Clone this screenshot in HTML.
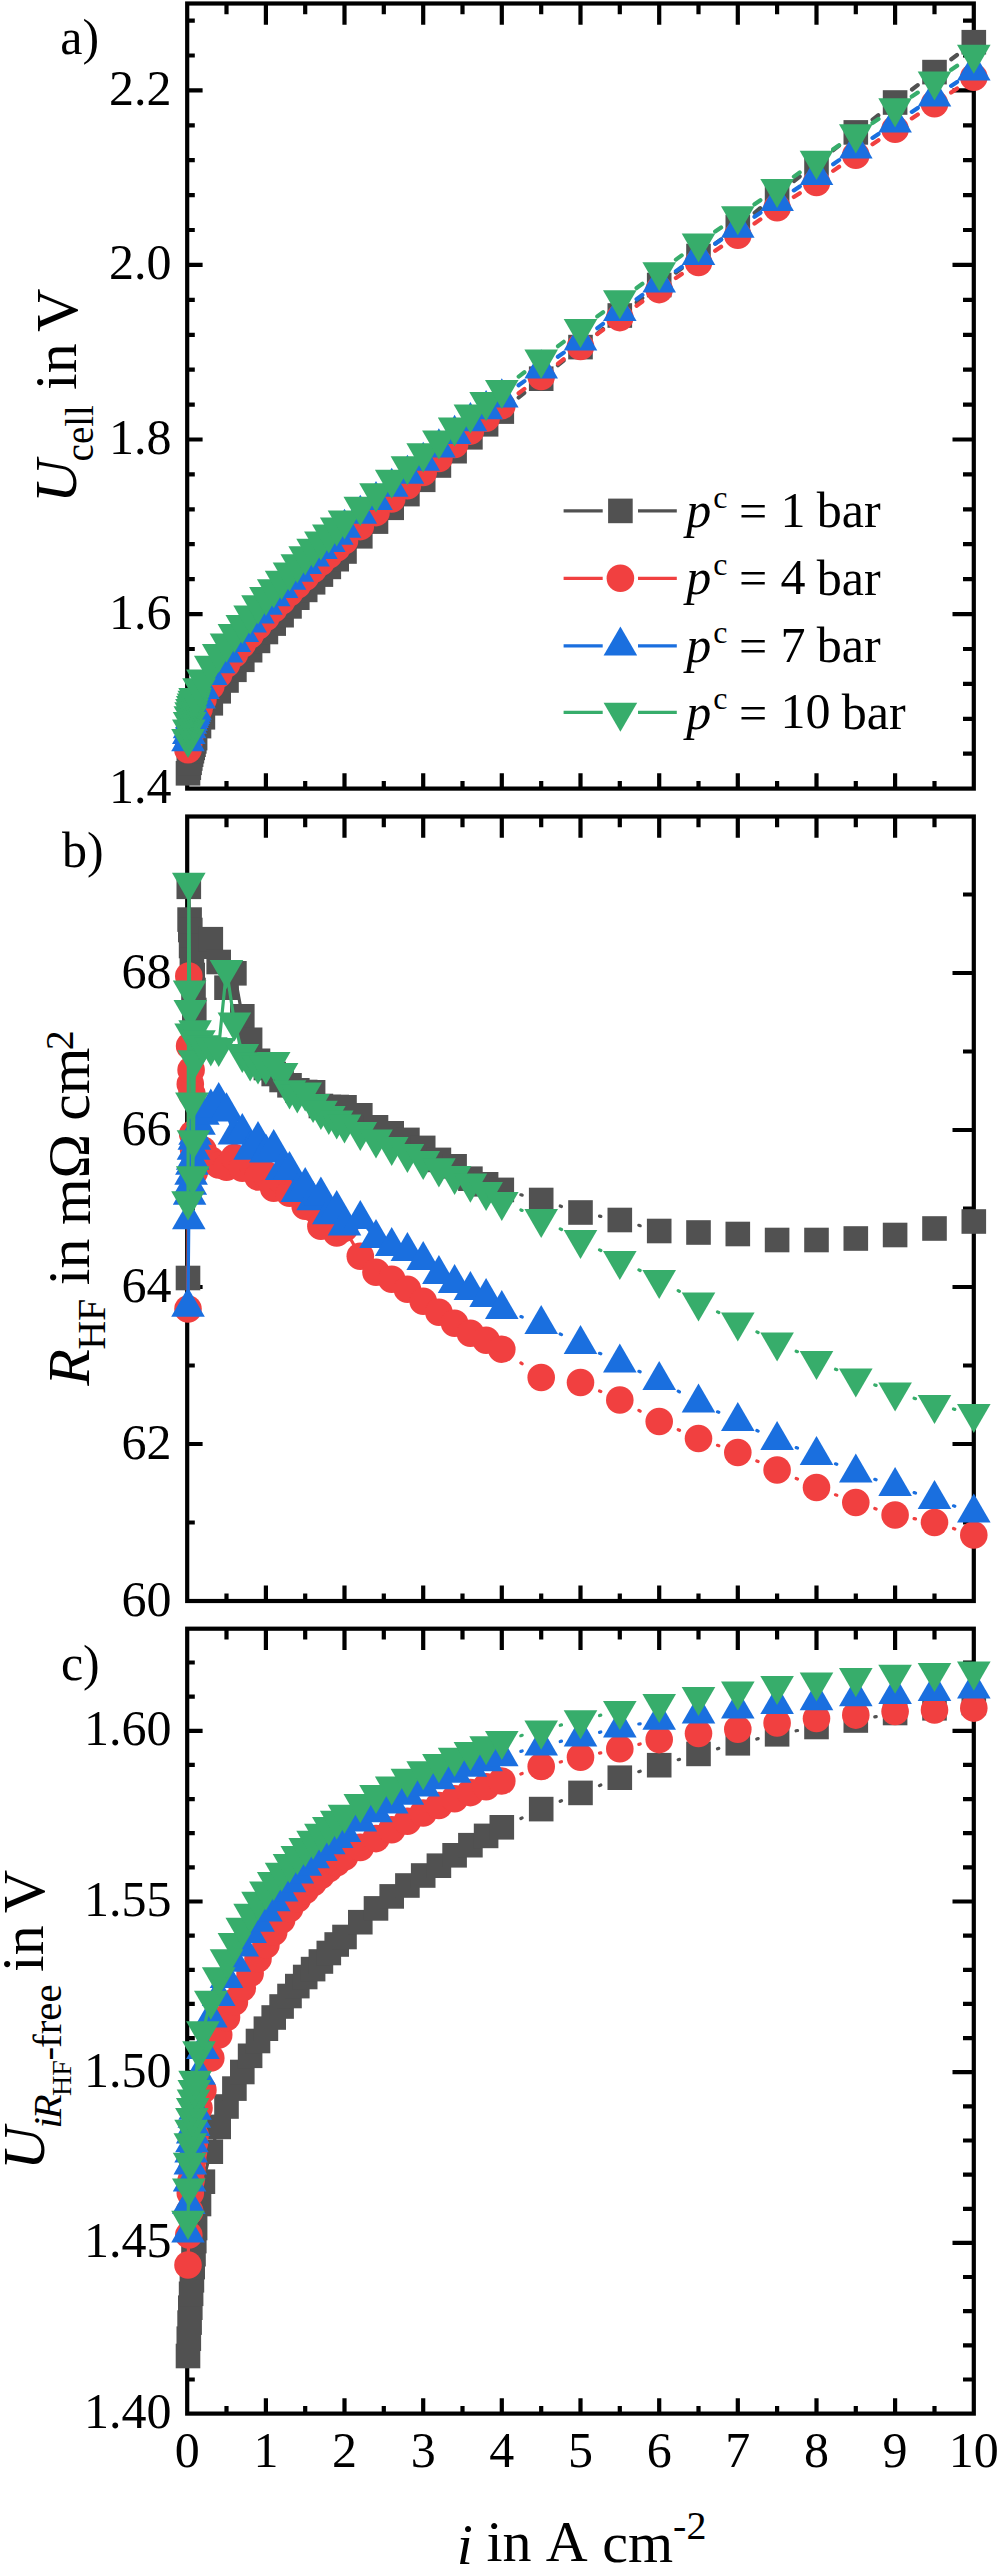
<!DOCTYPE html>
<html><head><meta charset="utf-8"><style>html,body{margin:0;padding:0;background:#fff;}svg{display:block;}</style></head><body>
<svg width="1000" height="2567" viewBox="0 0 1000 2567">
<rect width="1000" height="2567" fill="#fff"/>
<rect x="187.2" y="3.5" width="786.6" height="785.1" fill="none" stroke="#000" stroke-width="4.2"/>
<path d="M226.5 788.6V781.0M226.5 3.5V14.3M265.9 788.6V773.2M265.9 3.5V24.8M305.2 788.6V781.0M305.2 3.5V14.3M344.5 788.6V773.2M344.5 3.5V24.8M383.8 788.6V781.0M383.8 3.5V14.3M423.2 788.6V773.2M423.2 3.5V24.8M462.5 788.6V781.0M462.5 3.5V14.3M501.8 788.6V773.2M501.8 3.5V24.8M541.2 788.6V781.0M541.2 3.5V14.3M580.5 788.6V773.2M580.5 3.5V24.8M619.8 788.6V781.0M619.8 3.5V14.3M659.2 788.6V773.2M659.2 3.5V24.8M698.5 788.6V781.0M698.5 3.5V14.3M737.8 788.6V773.2M737.8 3.5V24.8M777.1 788.6V781.0M777.1 3.5V14.3M816.5 788.6V773.2M816.5 3.5V24.8M855.8 788.6V781.0M855.8 3.5V14.3M895.1 788.6V773.2M895.1 3.5V24.8M934.5 788.6V781.0M934.5 3.5V14.3M187.2 614.1H202.6M973.8 614.1H952.5M187.2 439.5H202.6M973.8 439.5H952.5M187.2 264.9H202.6M973.8 264.9H952.5M187.2 90.4H202.6M973.8 90.4H952.5M187.2 753.7H194.8M973.8 753.7H963.0M187.2 718.8H194.8M973.8 718.8H963.0M187.2 683.9H194.8M973.8 683.9H963.0M187.2 649.0H194.8M973.8 649.0H963.0M187.2 579.1H194.8M973.8 579.1H963.0M187.2 544.2H194.8M973.8 544.2H963.0M187.2 509.3H194.8M973.8 509.3H963.0M187.2 474.4H194.8M973.8 474.4H963.0M187.2 404.6H194.8M973.8 404.6H963.0M187.2 369.7H194.8M973.8 369.7H963.0M187.2 334.8H194.8M973.8 334.8H963.0M187.2 299.9H194.8M973.8 299.9H963.0M187.2 230.0H194.8M973.8 230.0H963.0M187.2 195.1H194.8M973.8 195.1H963.0M187.2 160.2H194.8M973.8 160.2H963.0M187.2 125.3H194.8M973.8 125.3H963.0M187.2 55.5H194.8M973.8 55.5H963.0M187.2 20.6H194.8M973.8 20.6H963.0" stroke="#000" stroke-width="4.2" fill="none"/>
<rect x="187.2" y="816.5" width="786.6" height="784.5" fill="none" stroke="#000" stroke-width="4.2"/>
<path d="M226.5 1601.0V1593.4M226.5 816.5V827.3M265.9 1601.0V1585.6M265.9 816.5V837.8M305.2 1601.0V1593.4M305.2 816.5V827.3M344.5 1601.0V1585.6M344.5 816.5V837.8M383.8 1601.0V1593.4M383.8 816.5V827.3M423.2 1601.0V1585.6M423.2 816.5V837.8M462.5 1601.0V1593.4M462.5 816.5V827.3M501.8 1601.0V1585.6M501.8 816.5V837.8M541.2 1601.0V1593.4M541.2 816.5V827.3M580.5 1601.0V1585.6M580.5 816.5V837.8M619.8 1601.0V1593.4M619.8 816.5V827.3M659.2 1601.0V1585.6M659.2 816.5V837.8M698.5 1601.0V1593.4M698.5 816.5V827.3M737.8 1601.0V1585.6M737.8 816.5V837.8M777.1 1601.0V1593.4M777.1 816.5V827.3M816.5 1601.0V1585.6M816.5 816.5V837.8M855.8 1601.0V1593.4M855.8 816.5V827.3M895.1 1601.0V1585.6M895.1 816.5V837.8M934.5 1601.0V1593.4M934.5 816.5V827.3M187.2 1444.0H202.6M973.8 1444.0H952.5M187.2 1287.0H202.6M973.8 1287.0H952.5M187.2 1130.0H202.6M973.8 1130.0H952.5M187.2 973.0H202.6M973.8 973.0H952.5M187.2 1522.5H194.8M973.8 1522.5H963.0M187.2 1365.5H194.8M973.8 1365.5H963.0M187.2 1208.5H194.8M973.8 1208.5H963.0M187.2 1051.5H194.8M973.8 1051.5H963.0M187.2 894.5H194.8M973.8 894.5H963.0" stroke="#000" stroke-width="4.2" fill="none"/>
<rect x="187.2" y="1628.7" width="786.6" height="784.9" fill="none" stroke="#000" stroke-width="4.2"/>
<path d="M226.5 2413.6V2406.0M226.5 1628.7V1639.5M265.9 2413.6V2398.2M265.9 1628.7V1650.0M305.2 2413.6V2406.0M305.2 1628.7V1639.5M344.5 2413.6V2398.2M344.5 1628.7V1650.0M383.8 2413.6V2406.0M383.8 1628.7V1639.5M423.2 2413.6V2398.2M423.2 1628.7V1650.0M462.5 2413.6V2406.0M462.5 1628.7V1639.5M501.8 2413.6V2398.2M501.8 1628.7V1650.0M541.2 2413.6V2406.0M541.2 1628.7V1639.5M580.5 2413.6V2398.2M580.5 1628.7V1650.0M619.8 2413.6V2406.0M619.8 1628.7V1639.5M659.2 2413.6V2398.2M659.2 1628.7V1650.0M698.5 2413.6V2406.0M698.5 1628.7V1639.5M737.8 2413.6V2398.2M737.8 1628.7V1650.0M777.1 2413.6V2406.0M777.1 1628.7V1639.5M816.5 2413.6V2398.2M816.5 1628.7V1650.0M855.8 2413.6V2406.0M855.8 1628.7V1639.5M895.1 2413.6V2398.2M895.1 1628.7V1650.0M934.5 2413.6V2406.0M934.5 1628.7V1639.5M187.2 2242.9H202.6M973.8 2242.9H952.5M187.2 2072.2H202.6M973.8 2072.2H952.5M187.2 1901.5H202.6M973.8 1901.5H952.5M187.2 1730.8H202.6M973.8 1730.8H952.5M187.2 2379.5H194.8M973.8 2379.5H963.0M187.2 2345.3H194.8M973.8 2345.3H963.0M187.2 2311.2H194.8M973.8 2311.2H963.0M187.2 2277.0H194.8M973.8 2277.0H963.0M187.2 2208.8H194.8M973.8 2208.8H963.0M187.2 2174.6H194.8M973.8 2174.6H963.0M187.2 2140.5H194.8M973.8 2140.5H963.0M187.2 2106.3H194.8M973.8 2106.3H963.0M187.2 2038.1H194.8M973.8 2038.1H963.0M187.2 2003.9H194.8M973.8 2003.9H963.0M187.2 1969.8H194.8M973.8 1969.8H963.0M187.2 1935.6H194.8M973.8 1935.6H963.0M187.2 1867.4H194.8M973.8 1867.4H963.0M187.2 1833.2H194.8M973.8 1833.2H963.0M187.2 1799.1H194.8M973.8 1799.1H963.0M187.2 1764.9H194.8M973.8 1764.9H963.0M187.2 1696.7H194.8M973.8 1696.7H963.0M187.2 1662.5H194.8M973.8 1662.5H963.0" stroke="#000" stroke-width="4.2" fill="none"/>
<path d="M188.0 773.3 L188.8 767.7 L189.6 762.8 L190.3 758.5 L191.1 754.7 L191.9 751.2 L192.7 747.9 L193.5 744.7 L194.3 741.4 L195.1 738.1 L199.0 726.1 L202.9 717.3 L210.8 703.3 L218.7 691.3 L226.5 680.5 L234.4 669.8 L242.3 659.8 L250.1 650.2 L258.0 640.9 L265.9 632.0 L273.7 623.6 L281.6 615.2 L289.5 606.4 L297.3 597.7 L305.2 589.9 L313.1 582.3 L320.9 574.6 L328.8 566.9 L336.7 559.2 L344.5 551.5 L360.3 536.3 L376.0 521.6 L391.7 507.8 L407.4 494.1 L423.2 479.8 L438.9 465.5 L454.6 451.2 L470.4 437.3 L486.1 424.3 L501.8 411.6" fill="none" stroke="#515151" stroke-width="3.2" stroke-linejoin="round"/>
<path d="M518.7 397.5L524.3 392.8M558.0 365.2L563.6 360.6M597.4 333.6L603.0 329.0M636.7 302.5L642.3 298.0M675.9 272.6L681.7 268.4M715.3 243.6L721.1 239.4M754.7 212.8L760.2 208.2M794.0 181.0L799.7 176.5M833.3 150.2L839.0 145.7M872.6 119.6L878.3 115.3M912.0 89.5L917.7 85.1M951.3 59.3L957.0 55.0" fill="none" stroke="#515151" stroke-width="4.2" stroke-linecap="round"/>
<g fill="#515151"><rect x="175.7" y="761.0" width="24.6" height="24.6"/><rect x="176.5" y="755.4" width="24.6" height="24.6"/><rect x="177.3" y="750.5" width="24.6" height="24.6"/><rect x="178.0" y="746.2" width="24.6" height="24.6"/><rect x="178.8" y="742.4" width="24.6" height="24.6"/><rect x="179.6" y="738.9" width="24.6" height="24.6"/><rect x="180.4" y="735.6" width="24.6" height="24.6"/><rect x="181.2" y="732.4" width="24.6" height="24.6"/><rect x="182.0" y="729.1" width="24.6" height="24.6"/><rect x="182.8" y="725.8" width="24.6" height="24.6"/><rect x="186.7" y="713.8" width="24.6" height="24.6"/><rect x="190.6" y="705.0" width="24.6" height="24.6"/><rect x="198.5" y="691.0" width="24.6" height="24.6"/><rect x="206.4" y="679.0" width="24.6" height="24.6"/><rect x="214.2" y="668.2" width="24.6" height="24.6"/><rect x="222.1" y="657.5" width="24.6" height="24.6"/><rect x="230.0" y="647.5" width="24.6" height="24.6"/><rect x="237.8" y="637.9" width="24.6" height="24.6"/><rect x="245.7" y="628.6" width="24.6" height="24.6"/><rect x="253.6" y="619.7" width="24.6" height="24.6"/><rect x="261.4" y="611.3" width="24.6" height="24.6"/><rect x="269.3" y="602.9" width="24.6" height="24.6"/><rect x="277.2" y="594.1" width="24.6" height="24.6"/><rect x="285.0" y="585.4" width="24.6" height="24.6"/><rect x="292.9" y="577.6" width="24.6" height="24.6"/><rect x="300.8" y="570.0" width="24.6" height="24.6"/><rect x="308.6" y="562.3" width="24.6" height="24.6"/><rect x="316.5" y="554.6" width="24.6" height="24.6"/><rect x="324.4" y="546.9" width="24.6" height="24.6"/><rect x="332.2" y="539.2" width="24.6" height="24.6"/><rect x="348.0" y="524.0" width="24.6" height="24.6"/><rect x="363.7" y="509.3" width="24.6" height="24.6"/><rect x="379.4" y="495.5" width="24.6" height="24.6"/><rect x="395.1" y="481.8" width="24.6" height="24.6"/><rect x="410.9" y="467.5" width="24.6" height="24.6"/><rect x="426.6" y="453.2" width="24.6" height="24.6"/><rect x="442.3" y="438.9" width="24.6" height="24.6"/><rect x="458.1" y="425.0" width="24.6" height="24.6"/><rect x="473.8" y="412.0" width="24.6" height="24.6"/><rect x="489.5" y="399.3" width="24.6" height="24.6"/><rect x="528.9" y="366.4" width="24.6" height="24.6"/><rect x="568.2" y="334.8" width="24.6" height="24.6"/><rect x="607.5" y="303.2" width="24.6" height="24.6"/><rect x="646.9" y="272.7" width="24.6" height="24.6"/><rect x="686.2" y="243.7" width="24.6" height="24.6"/><rect x="725.5" y="214.7" width="24.6" height="24.6"/><rect x="764.8" y="181.7" width="24.6" height="24.6"/><rect x="804.2" y="151.2" width="24.6" height="24.6"/><rect x="843.5" y="120.1" width="24.6" height="24.6"/><rect x="882.8" y="90.2" width="24.6" height="24.6"/><rect x="922.2" y="59.8" width="24.6" height="24.6"/><rect x="961.5" y="29.9" width="24.6" height="24.6"/></g>
<path d="M188.0 749.8 L188.8 742.9 L189.6 737.5 L190.3 733.3 L191.1 730.4 L191.9 727.9 L192.7 725.8 L193.5 724.0 L194.3 722.0 L195.1 720.0 L199.0 709.0 L202.9 699.7 L210.8 686.1 L218.7 674.6 L226.5 664.0 L234.4 653.9 L242.3 644.2 L250.1 634.9 L258.0 626.0 L265.9 617.4 L273.7 609.1 L281.6 600.9 L289.5 592.8 L297.3 584.9 L305.2 577.2 L313.1 569.6 L320.9 562.3 L328.8 555.0 L336.7 547.9 L344.5 540.8 L360.3 526.6 L376.0 512.6 L391.7 499.0 L407.4 485.8 L423.2 472.4 L438.9 458.5 L454.6 444.5 L470.4 431.1 L486.1 418.2 L501.8 405.7" fill="none" stroke="#F14040" stroke-width="3.2" stroke-linejoin="round"/>
<path d="M518.6 393.2L524.4 388.9M558.0 363.6L563.7 359.2M597.3 334.1L603.1 329.9M636.6 305.7L642.4 301.5M675.9 278.0L681.8 274.0M715.2 250.8L721.1 246.8M754.5 223.5L760.4 219.4M793.8 197.0L799.8 193.2M833.2 170.9L839.1 166.8M872.5 144.2L878.5 140.2M911.8 118.4L917.8 114.5M951.1 92.5L957.1 88.4" fill="none" stroke="#F14040" stroke-width="4.2" stroke-linecap="round"/>
<g fill="#F14040"><circle cx="188.0" cy="749.8" r="13.8"/><circle cx="188.8" cy="742.9" r="13.8"/><circle cx="189.6" cy="737.5" r="13.8"/><circle cx="190.3" cy="733.3" r="13.8"/><circle cx="191.1" cy="730.4" r="13.8"/><circle cx="191.9" cy="727.9" r="13.8"/><circle cx="192.7" cy="725.8" r="13.8"/><circle cx="193.5" cy="724.0" r="13.8"/><circle cx="194.3" cy="722.0" r="13.8"/><circle cx="195.1" cy="720.0" r="13.8"/><circle cx="199.0" cy="709.0" r="13.8"/><circle cx="202.9" cy="699.7" r="13.8"/><circle cx="210.8" cy="686.1" r="13.8"/><circle cx="218.7" cy="674.6" r="13.8"/><circle cx="226.5" cy="664.0" r="13.8"/><circle cx="234.4" cy="653.9" r="13.8"/><circle cx="242.3" cy="644.2" r="13.8"/><circle cx="250.1" cy="634.9" r="13.8"/><circle cx="258.0" cy="626.0" r="13.8"/><circle cx="265.9" cy="617.4" r="13.8"/><circle cx="273.7" cy="609.1" r="13.8"/><circle cx="281.6" cy="600.9" r="13.8"/><circle cx="289.5" cy="592.8" r="13.8"/><circle cx="297.3" cy="584.9" r="13.8"/><circle cx="305.2" cy="577.2" r="13.8"/><circle cx="313.1" cy="569.6" r="13.8"/><circle cx="320.9" cy="562.3" r="13.8"/><circle cx="328.8" cy="555.0" r="13.8"/><circle cx="336.7" cy="547.9" r="13.8"/><circle cx="344.5" cy="540.8" r="13.8"/><circle cx="360.3" cy="526.6" r="13.8"/><circle cx="376.0" cy="512.6" r="13.8"/><circle cx="391.7" cy="499.0" r="13.8"/><circle cx="407.4" cy="485.8" r="13.8"/><circle cx="423.2" cy="472.4" r="13.8"/><circle cx="438.9" cy="458.5" r="13.8"/><circle cx="454.6" cy="444.5" r="13.8"/><circle cx="470.4" cy="431.1" r="13.8"/><circle cx="486.1" cy="418.2" r="13.8"/><circle cx="501.8" cy="405.7" r="13.8"/><circle cx="541.2" cy="376.4" r="13.8"/><circle cx="580.5" cy="346.4" r="13.8"/><circle cx="619.8" cy="317.6" r="13.8"/><circle cx="659.2" cy="289.6" r="13.8"/><circle cx="698.5" cy="262.4" r="13.8"/><circle cx="737.8" cy="235.2" r="13.8"/><circle cx="777.1" cy="207.7" r="13.8"/><circle cx="816.5" cy="182.5" r="13.8"/><circle cx="855.8" cy="155.2" r="13.8"/><circle cx="895.1" cy="129.2" r="13.8"/><circle cx="934.5" cy="103.7" r="13.8"/><circle cx="973.8" cy="77.2" r="13.8"/></g>
<path d="M188.0 741.5 L188.8 734.2 L189.6 728.5 L190.3 724.0 L191.1 721.0 L191.9 718.4 L192.7 716.1 L193.5 714.2 L194.3 712.1 L195.1 710.0 L199.0 698.8 L202.9 689.3 L210.8 675.4 L218.7 663.6 L226.5 652.7 L234.4 642.3 L242.3 632.4 L250.1 622.8 L258.0 613.7 L265.9 605.0 L273.7 596.5 L281.6 588.2 L289.5 580.0 L297.3 572.0 L305.2 564.3 L313.1 556.7 L320.9 549.4 L328.8 542.2 L336.7 535.1 L344.5 528.1 L360.3 514.1 L376.0 500.4 L391.7 487.1 L407.4 474.1 L423.2 461.1 L438.9 447.7 L454.6 434.2 L470.4 421.5 L486.1 409.5 L501.8 397.7" fill="none" stroke="#1A6FDF" stroke-width="3.2" stroke-linejoin="round"/>
<path d="M518.6 385.3L524.4 381.1M557.9 356.8L563.8 352.6M597.3 328.2L603.0 323.8M636.6 299.2L642.4 294.9M675.9 271.1L681.8 267.0M715.2 243.7L721.1 239.7M754.5 216.8L760.5 212.7M793.8 190.4L799.8 186.4M833.2 164.2L839.1 160.1M872.5 137.9L878.5 133.9M911.8 111.9L917.8 107.9M951.1 85.9L957.1 81.9" fill="none" stroke="#1A6FDF" stroke-width="4.2" stroke-linecap="round"/>
<g fill="#1A6FDF"><path d="M188.0 722.1L204.8 751.2L171.2 751.2Z"/><path d="M188.8 714.8L205.6 743.9L172.0 743.9Z"/><path d="M189.6 709.1L206.4 738.2L172.8 738.2Z"/><path d="M190.3 704.7L207.1 733.7L173.5 733.7Z"/><path d="M191.1 701.6L207.9 730.7L174.3 730.7Z"/><path d="M191.9 699.0L208.7 728.1L175.1 728.1Z"/><path d="M192.7 696.7L209.5 725.8L175.9 725.8Z"/><path d="M193.5 694.8L210.3 723.9L176.7 723.9Z"/><path d="M194.3 692.7L211.1 721.8L177.5 721.8Z"/><path d="M195.1 690.6L211.9 719.7L178.3 719.7Z"/><path d="M199.0 679.4L215.8 708.5L182.2 708.5Z"/><path d="M202.9 669.9L219.7 699.0L186.1 699.0Z"/><path d="M210.8 656.0L227.6 685.1L194.0 685.1Z"/><path d="M218.7 644.2L235.5 673.3L201.9 673.3Z"/><path d="M226.5 633.3L243.3 662.4L209.7 662.4Z"/><path d="M234.4 622.9L251.2 652.0L217.6 652.0Z"/><path d="M242.3 613.0L259.1 642.1L225.5 642.1Z"/><path d="M250.1 603.4L266.9 632.5L233.3 632.5Z"/><path d="M258.0 594.3L274.8 623.4L241.2 623.4Z"/><path d="M265.9 585.6L282.7 614.7L249.1 614.7Z"/><path d="M273.7 577.1L290.5 606.2L256.9 606.2Z"/><path d="M281.6 568.8L298.4 597.9L264.8 597.9Z"/><path d="M289.5 560.6L306.3 589.7L272.7 589.7Z"/><path d="M297.3 552.6L314.1 581.7L280.5 581.7Z"/><path d="M305.2 544.9L322.0 574.0L288.4 574.0Z"/><path d="M313.1 537.3L329.9 566.4L296.3 566.4Z"/><path d="M320.9 530.0L337.7 559.1L304.1 559.1Z"/><path d="M328.8 522.8L345.6 551.9L312.0 551.9Z"/><path d="M336.7 515.7L353.5 544.8L319.9 544.8Z"/><path d="M344.5 508.7L361.3 537.8L327.7 537.8Z"/><path d="M360.3 494.7L377.1 523.8L343.5 523.8Z"/><path d="M376.0 481.0L392.8 510.1L359.2 510.1Z"/><path d="M391.7 467.7L408.5 496.8L374.9 496.8Z"/><path d="M407.4 454.7L424.2 483.8L390.6 483.8Z"/><path d="M423.2 441.7L440.0 470.8L406.4 470.8Z"/><path d="M438.9 428.3L455.7 457.4L422.1 457.4Z"/><path d="M454.6 414.8L471.4 443.9L437.8 443.9Z"/><path d="M470.4 402.1L487.2 431.2L453.6 431.2Z"/><path d="M486.1 390.1L502.9 419.2L469.3 419.2Z"/><path d="M501.8 378.3L518.6 407.4L485.0 407.4Z"/><path d="M541.2 349.3L558.0 378.4L524.4 378.4Z"/><path d="M580.5 321.3L597.3 350.4L563.7 350.4Z"/><path d="M619.8 291.9L636.6 321.0L603.0 321.0Z"/><path d="M659.2 263.4L676.0 292.5L642.4 292.5Z"/><path d="M698.5 235.9L715.3 265.0L681.7 265.0Z"/><path d="M737.8 208.7L754.6 237.8L721.0 237.8Z"/><path d="M777.1 182.0L793.9 211.1L760.3 211.1Z"/><path d="M816.5 156.0L833.3 185.1L799.7 185.1Z"/><path d="M855.8 129.5L872.6 158.6L839.0 158.6Z"/><path d="M895.1 103.5L911.9 132.6L878.3 132.6Z"/><path d="M934.5 77.5L951.3 106.6L917.7 106.6Z"/><path d="M973.8 51.5L990.6 80.6L957.0 80.6Z"/></g>
<path d="M188.0 738.6 L188.8 729.2 L189.6 721.7 L190.3 715.9 L191.1 712.0 L191.9 708.6 L192.7 705.6 L193.5 703.2 L194.3 700.4 L195.1 697.7 L199.0 687.9 L202.9 679.3 L210.8 665.5 L218.7 653.7 L226.5 643.3 L234.4 633.7 L242.3 624.5 L250.1 615.3 L258.0 605.0 L265.9 596.7 L273.7 588.9 L281.6 580.5 L289.5 572.1 L297.3 563.9 L305.2 556.0 L313.1 548.5 L320.9 541.2 L328.8 534.1 L336.7 527.1 L344.5 520.1 L360.3 506.5 L376.0 493.0 L391.7 479.4 L407.4 465.9 L423.2 453.0 L438.9 440.2 L454.6 427.1 L470.4 414.2 L486.1 401.8 L501.8 389.6" fill="none" stroke="#37AD6B" stroke-width="3.2" stroke-linejoin="round"/>
<path d="M518.7 376.6L524.4 372.3M558.0 346.2L563.7 341.8M597.3 316.4L603.1 312.2M636.6 288.0L642.4 283.8M675.9 259.6L681.7 255.4M715.2 231.5L721.1 227.5M754.5 204.3L760.4 200.2M793.9 176.6L799.7 172.5M833.2 149.3L839.1 145.2M872.5 123.0L878.5 119.0M911.8 96.6L917.8 92.6M951.2 69.8L957.1 65.8" fill="none" stroke="#37AD6B" stroke-width="4.2" stroke-linecap="round"/>
<g fill="#37AD6B"><path d="M188.0 758.0L204.8 728.9L171.2 728.9Z"/><path d="M188.8 748.6L205.6 719.5L172.0 719.5Z"/><path d="M189.6 741.1L206.4 712.0L172.8 712.0Z"/><path d="M190.3 735.3L207.1 706.2L173.5 706.2Z"/><path d="M191.1 731.4L207.9 702.3L174.3 702.3Z"/><path d="M191.9 728.0L208.7 698.9L175.1 698.9Z"/><path d="M192.7 725.0L209.5 695.9L175.9 695.9Z"/><path d="M193.5 722.6L210.3 693.5L176.7 693.5Z"/><path d="M194.3 719.8L211.1 690.7L177.5 690.7Z"/><path d="M195.1 717.1L211.9 688.0L178.3 688.0Z"/><path d="M199.0 707.3L215.8 678.2L182.2 678.2Z"/><path d="M202.9 698.7L219.7 669.6L186.1 669.6Z"/><path d="M210.8 684.9L227.6 655.8L194.0 655.8Z"/><path d="M218.7 673.1L235.5 644.0L201.9 644.0Z"/><path d="M226.5 662.7L243.3 633.6L209.7 633.6Z"/><path d="M234.4 653.1L251.2 624.0L217.6 624.0Z"/><path d="M242.3 643.9L259.1 614.9L225.5 614.9Z"/><path d="M250.1 634.7L266.9 605.6L233.3 605.6Z"/><path d="M258.0 624.4L274.8 595.3L241.2 595.3Z"/><path d="M265.9 616.1L282.7 587.0L249.1 587.0Z"/><path d="M273.7 608.3L290.5 579.2L256.9 579.2Z"/><path d="M281.6 599.9L298.4 570.8L264.8 570.8Z"/><path d="M289.5 591.5L306.3 562.4L272.7 562.4Z"/><path d="M297.3 583.3L314.1 554.2L280.5 554.2Z"/><path d="M305.2 575.4L322.0 546.3L288.4 546.3Z"/><path d="M313.1 567.9L329.9 538.8L296.3 538.8Z"/><path d="M320.9 560.6L337.7 531.5L304.1 531.5Z"/><path d="M328.8 553.5L345.6 524.4L312.0 524.4Z"/><path d="M336.7 546.5L353.5 517.4L319.9 517.4Z"/><path d="M344.5 539.5L361.3 510.4L327.7 510.4Z"/><path d="M360.3 525.9L377.1 496.8L343.5 496.8Z"/><path d="M376.0 512.4L392.8 483.3L359.2 483.3Z"/><path d="M391.7 498.8L408.5 469.7L374.9 469.7Z"/><path d="M407.4 485.3L424.2 456.2L390.6 456.2Z"/><path d="M423.2 472.4L440.0 443.3L406.4 443.3Z"/><path d="M438.9 459.6L455.7 430.5L422.1 430.5Z"/><path d="M454.6 446.5L471.4 417.4L437.8 417.4Z"/><path d="M470.4 433.6L487.2 404.5L453.6 404.5Z"/><path d="M486.1 421.2L502.9 392.1L469.3 392.1Z"/><path d="M501.8 409.0L518.6 379.9L485.0 379.9Z"/><path d="M541.2 378.7L558.0 349.6L524.4 349.6Z"/><path d="M580.5 348.1L597.3 319.0L563.7 319.0Z"/><path d="M619.8 319.3L636.6 290.2L603.0 290.2Z"/><path d="M659.2 291.3L676.0 262.2L642.4 262.2Z"/><path d="M698.5 262.5L715.3 233.4L681.7 233.4Z"/><path d="M737.8 235.3L754.6 206.2L721.0 206.2Z"/><path d="M777.1 208.0L793.9 178.9L760.3 178.9Z"/><path d="M816.5 179.9L833.3 150.8L799.7 150.8Z"/><path d="M855.8 153.4L872.6 124.3L839.0 124.3Z"/><path d="M895.1 127.4L911.9 98.3L878.3 98.3Z"/><path d="M934.5 100.6L951.3 71.5L917.7 71.5Z"/><path d="M973.8 73.8L990.6 44.7L957.0 44.7Z"/></g>
<path d="M188.0 1278.0 L188.8 886.8 L189.6 919.6 L190.3 930.0 L191.1 946.0 L191.9 960.0 L192.7 975.0 L193.5 990.0 L194.3 1010.0 L195.1 1043.0 L199.0 946.7 L202.9 946.7 L210.8 939.2 L218.7 962.0 L226.5 987.7 L234.4 973.3 L242.3 1016.3 L250.1 1039.8 L258.0 1060.8 L265.9 1068.0 L273.7 1074.0 L281.6 1080.0 L289.5 1085.3 L297.3 1090.3 L305.2 1092.0 L313.1 1092.3 L320.9 1106.0 L328.8 1107.0 L336.7 1107.0 L344.5 1107.3 L360.3 1115.3 L376.0 1127.3 L391.7 1133.3 L407.4 1139.9 L423.2 1147.9 L438.9 1159.9 L454.6 1166.3 L470.4 1178.7 L486.1 1184.3 L501.8 1189.9" fill="none" stroke="#515151" stroke-width="3.2" stroke-linejoin="round"/>
<path d="M520.8 1194.8L522.2 1195.1M560.2 1206.0L561.5 1206.5M599.5 1216.1L600.9 1216.4M638.8 1225.3L640.2 1225.7" fill="none" stroke="#515151" stroke-width="3.2" stroke-linecap="round"/>
<g fill="#515151"><rect x="175.7" y="1265.7" width="24.6" height="24.6"/><rect x="176.5" y="874.5" width="24.6" height="24.6"/><rect x="177.3" y="907.3" width="24.6" height="24.6"/><rect x="178.0" y="917.7" width="24.6" height="24.6"/><rect x="178.8" y="933.7" width="24.6" height="24.6"/><rect x="179.6" y="947.7" width="24.6" height="24.6"/><rect x="180.4" y="962.7" width="24.6" height="24.6"/><rect x="181.2" y="977.7" width="24.6" height="24.6"/><rect x="182.0" y="997.7" width="24.6" height="24.6"/><rect x="182.8" y="1030.7" width="24.6" height="24.6"/><rect x="186.7" y="934.4" width="24.6" height="24.6"/><rect x="190.6" y="934.4" width="24.6" height="24.6"/><rect x="198.5" y="926.9" width="24.6" height="24.6"/><rect x="206.4" y="949.7" width="24.6" height="24.6"/><rect x="214.2" y="975.4" width="24.6" height="24.6"/><rect x="222.1" y="961.0" width="24.6" height="24.6"/><rect x="230.0" y="1004.0" width="24.6" height="24.6"/><rect x="237.8" y="1027.5" width="24.6" height="24.6"/><rect x="245.7" y="1048.5" width="24.6" height="24.6"/><rect x="253.6" y="1055.7" width="24.6" height="24.6"/><rect x="261.4" y="1061.7" width="24.6" height="24.6"/><rect x="269.3" y="1067.7" width="24.6" height="24.6"/><rect x="277.2" y="1073.0" width="24.6" height="24.6"/><rect x="285.0" y="1078.0" width="24.6" height="24.6"/><rect x="292.9" y="1079.7" width="24.6" height="24.6"/><rect x="300.8" y="1080.0" width="24.6" height="24.6"/><rect x="308.6" y="1093.7" width="24.6" height="24.6"/><rect x="316.5" y="1094.7" width="24.6" height="24.6"/><rect x="324.4" y="1094.7" width="24.6" height="24.6"/><rect x="332.2" y="1095.0" width="24.6" height="24.6"/><rect x="348.0" y="1103.0" width="24.6" height="24.6"/><rect x="363.7" y="1115.0" width="24.6" height="24.6"/><rect x="379.4" y="1121.0" width="24.6" height="24.6"/><rect x="395.1" y="1127.6" width="24.6" height="24.6"/><rect x="410.9" y="1135.6" width="24.6" height="24.6"/><rect x="426.6" y="1147.6" width="24.6" height="24.6"/><rect x="442.3" y="1154.0" width="24.6" height="24.6"/><rect x="458.1" y="1166.4" width="24.6" height="24.6"/><rect x="473.8" y="1172.0" width="24.6" height="24.6"/><rect x="489.5" y="1177.6" width="24.6" height="24.6"/><rect x="528.9" y="1187.7" width="24.6" height="24.6"/><rect x="568.2" y="1200.2" width="24.6" height="24.6"/><rect x="607.5" y="1207.7" width="24.6" height="24.6"/><rect x="646.9" y="1218.7" width="24.6" height="24.6"/><rect x="686.2" y="1220.2" width="24.6" height="24.6"/><rect x="725.5" y="1221.7" width="24.6" height="24.6"/><rect x="764.8" y="1227.7" width="24.6" height="24.6"/><rect x="804.2" y="1227.7" width="24.6" height="24.6"/><rect x="843.5" y="1226.2" width="24.6" height="24.6"/><rect x="882.8" y="1222.7" width="24.6" height="24.6"/><rect x="922.2" y="1216.2" width="24.6" height="24.6"/><rect x="961.5" y="1209.2" width="24.6" height="24.6"/></g>
<path d="M188.0 1309.0 L188.8 976.0 L189.6 1046.0 L190.3 1084.0 L191.1 1070.0 L191.9 1094.0 L192.7 1134.0 L193.5 1149.0 L194.3 1172.0 L195.1 1160.0 L199.0 1150.0 L202.9 1150.0 L210.8 1160.0 L218.7 1165.0 L226.5 1167.2 L234.4 1157.6 L242.3 1168.2 L250.1 1161.2 L258.0 1177.0 L265.9 1174.5 L273.7 1188.2 L281.6 1180.7 L289.5 1193.2 L297.3 1188.2 L305.2 1206.2 L313.1 1208.2 L320.9 1226.2 L328.8 1220.0 L336.7 1232.9 L344.5 1228.2 L360.3 1256.2 L376.0 1272.2 L391.7 1279.2 L407.4 1289.2 L423.2 1301.2 L438.9 1312.2 L454.6 1323.3 L470.4 1333.2 L486.1 1340.2 L501.8 1349.2" fill="none" stroke="#F14040" stroke-width="3.2" stroke-linejoin="round"/>
<path d="M520.9 1362.9L522.1 1363.8M599.5 1391.0L600.8 1391.5M638.9 1410.4L640.1 1411.1M678.2 1429.7L679.5 1430.3M717.5 1445.3L718.8 1445.7M756.8 1461.0L758.1 1461.5M796.2 1478.5L797.5 1479.0M835.5 1494.8L836.8 1495.2M874.8 1508.5L876.1 1509.0M914.1 1518.6L915.5 1518.9M953.5 1528.5L954.8 1529.0" fill="none" stroke="#F14040" stroke-width="3.2" stroke-linecap="round"/>
<g fill="#F14040"><circle cx="188.0" cy="1309.0" r="13.8"/><circle cx="188.8" cy="976.0" r="13.8"/><circle cx="189.6" cy="1046.0" r="13.8"/><circle cx="190.3" cy="1084.0" r="13.8"/><circle cx="191.1" cy="1070.0" r="13.8"/><circle cx="191.9" cy="1094.0" r="13.8"/><circle cx="192.7" cy="1134.0" r="13.8"/><circle cx="193.5" cy="1149.0" r="13.8"/><circle cx="194.3" cy="1172.0" r="13.8"/><circle cx="195.1" cy="1160.0" r="13.8"/><circle cx="199.0" cy="1150.0" r="13.8"/><circle cx="202.9" cy="1150.0" r="13.8"/><circle cx="210.8" cy="1160.0" r="13.8"/><circle cx="218.7" cy="1165.0" r="13.8"/><circle cx="226.5" cy="1167.2" r="13.8"/><circle cx="234.4" cy="1157.6" r="13.8"/><circle cx="242.3" cy="1168.2" r="13.8"/><circle cx="250.1" cy="1161.2" r="13.8"/><circle cx="258.0" cy="1177.0" r="13.8"/><circle cx="265.9" cy="1174.5" r="13.8"/><circle cx="273.7" cy="1188.2" r="13.8"/><circle cx="281.6" cy="1180.7" r="13.8"/><circle cx="289.5" cy="1193.2" r="13.8"/><circle cx="297.3" cy="1188.2" r="13.8"/><circle cx="305.2" cy="1206.2" r="13.8"/><circle cx="313.1" cy="1208.2" r="13.8"/><circle cx="320.9" cy="1226.2" r="13.8"/><circle cx="328.8" cy="1220.0" r="13.8"/><circle cx="336.7" cy="1232.9" r="13.8"/><circle cx="344.5" cy="1228.2" r="13.8"/><circle cx="360.3" cy="1256.2" r="13.8"/><circle cx="376.0" cy="1272.2" r="13.8"/><circle cx="391.7" cy="1279.2" r="13.8"/><circle cx="407.4" cy="1289.2" r="13.8"/><circle cx="423.2" cy="1301.2" r="13.8"/><circle cx="438.9" cy="1312.2" r="13.8"/><circle cx="454.6" cy="1323.3" r="13.8"/><circle cx="470.4" cy="1333.2" r="13.8"/><circle cx="486.1" cy="1340.2" r="13.8"/><circle cx="501.8" cy="1349.2" r="13.8"/><circle cx="541.2" cy="1377.5" r="13.8"/><circle cx="580.5" cy="1382.5" r="13.8"/><circle cx="619.8" cy="1400.0" r="13.8"/><circle cx="659.2" cy="1421.5" r="13.8"/><circle cx="698.5" cy="1438.5" r="13.8"/><circle cx="737.8" cy="1452.5" r="13.8"/><circle cx="777.1" cy="1470.0" r="13.8"/><circle cx="816.5" cy="1487.5" r="13.8"/><circle cx="855.8" cy="1502.5" r="13.8"/><circle cx="895.1" cy="1515.0" r="13.8"/><circle cx="934.5" cy="1522.5" r="13.8"/><circle cx="973.8" cy="1535.0" r="13.8"/></g>
<path d="M188.0 1307.0 L188.8 1219.6 L189.6 1195.0 L190.3 1185.0 L191.1 1175.0 L191.9 1165.0 L192.7 1160.0 L193.5 1150.0 L194.3 1140.0 L195.1 1135.0 L199.0 1125.0 L202.9 1115.0 L210.8 1108.0 L218.7 1101.4 L226.5 1111.7 L234.4 1134.9 L242.3 1132.4 L250.1 1150.0 L258.0 1140.4 L265.9 1152.9 L273.7 1148.4 L281.6 1170.4 L289.5 1170.3 L297.3 1192.3 L305.2 1186.4 L313.1 1200.5 L320.9 1195.8 L328.8 1214.6 L336.7 1209.4 L344.5 1225.8 L360.3 1219.4 L376.0 1238.4 L391.7 1246.4 L407.4 1251.4 L423.2 1260.4 L438.9 1274.4 L454.6 1283.4 L470.4 1290.4 L486.1 1297.4 L501.8 1309.4" fill="none" stroke="#1A6FDF" stroke-width="3.2" stroke-linejoin="round"/>
<path d="M520.9 1316.6L522.2 1317.1M560.2 1334.0L561.5 1334.6M599.5 1353.3L600.8 1353.8M638.9 1371.3L640.1 1371.8M678.2 1391.2L679.4 1391.9M717.5 1411.8L718.8 1412.3M756.9 1430.5L758.1 1431.1M796.2 1447.6L797.5 1448.0M835.5 1463.8L836.8 1464.3M874.8 1479.3L876.1 1479.8M914.1 1492.6L915.5 1493.0M953.5 1505.8L954.8 1506.3" fill="none" stroke="#1A6FDF" stroke-width="3.2" stroke-linecap="round"/>
<g fill="#1A6FDF"><path d="M188.0 1287.6L204.8 1316.7L171.2 1316.7Z"/><path d="M188.8 1200.2L205.6 1229.3L172.0 1229.3Z"/><path d="M189.6 1175.6L206.4 1204.7L172.8 1204.7Z"/><path d="M190.3 1165.6L207.1 1194.7L173.5 1194.7Z"/><path d="M191.1 1155.6L207.9 1184.7L174.3 1184.7Z"/><path d="M191.9 1145.6L208.7 1174.7L175.1 1174.7Z"/><path d="M192.7 1140.6L209.5 1169.7L175.9 1169.7Z"/><path d="M193.5 1130.6L210.3 1159.7L176.7 1159.7Z"/><path d="M194.3 1120.6L211.1 1149.7L177.5 1149.7Z"/><path d="M195.1 1115.6L211.9 1144.7L178.3 1144.7Z"/><path d="M199.0 1105.6L215.8 1134.7L182.2 1134.7Z"/><path d="M202.9 1095.6L219.7 1124.7L186.1 1124.7Z"/><path d="M210.8 1088.6L227.6 1117.7L194.0 1117.7Z"/><path d="M218.7 1082.0L235.5 1111.1L201.9 1111.1Z"/><path d="M226.5 1092.3L243.3 1121.4L209.7 1121.4Z"/><path d="M234.4 1115.5L251.2 1144.6L217.6 1144.6Z"/><path d="M242.3 1113.0L259.1 1142.1L225.5 1142.1Z"/><path d="M250.1 1130.6L266.9 1159.7L233.3 1159.7Z"/><path d="M258.0 1121.0L274.8 1150.1L241.2 1150.1Z"/><path d="M265.9 1133.5L282.7 1162.6L249.1 1162.6Z"/><path d="M273.7 1129.0L290.5 1158.1L256.9 1158.1Z"/><path d="M281.6 1151.0L298.4 1180.1L264.8 1180.1Z"/><path d="M289.5 1150.9L306.3 1180.0L272.7 1180.0Z"/><path d="M297.3 1172.9L314.1 1201.9L280.5 1201.9Z"/><path d="M305.2 1167.0L322.0 1196.1L288.4 1196.1Z"/><path d="M313.1 1181.1L329.9 1210.2L296.3 1210.2Z"/><path d="M320.9 1176.4L337.7 1205.5L304.1 1205.5Z"/><path d="M328.8 1195.2L345.6 1224.3L312.0 1224.3Z"/><path d="M336.7 1190.0L353.5 1219.1L319.9 1219.1Z"/><path d="M344.5 1206.4L361.3 1235.5L327.7 1235.5Z"/><path d="M360.3 1200.0L377.1 1229.1L343.5 1229.1Z"/><path d="M376.0 1219.0L392.8 1248.1L359.2 1248.1Z"/><path d="M391.7 1227.0L408.5 1256.1L374.9 1256.1Z"/><path d="M407.4 1232.0L424.2 1261.1L390.6 1261.1Z"/><path d="M423.2 1241.0L440.0 1270.1L406.4 1270.1Z"/><path d="M438.9 1255.0L455.7 1284.1L422.1 1284.1Z"/><path d="M454.6 1264.0L471.4 1293.1L437.8 1293.1Z"/><path d="M470.4 1271.0L487.2 1300.1L453.6 1300.1Z"/><path d="M486.1 1278.0L502.9 1307.1L469.3 1307.1Z"/><path d="M501.8 1290.0L518.6 1319.1L485.0 1319.1Z"/><path d="M541.2 1304.9L558.0 1334.0L524.4 1334.0Z"/><path d="M580.5 1324.9L597.3 1354.0L563.7 1354.0Z"/><path d="M619.8 1343.4L636.6 1372.5L603.0 1372.5Z"/><path d="M659.2 1360.9L676.0 1390.0L642.4 1390.0Z"/><path d="M698.5 1383.4L715.3 1412.5L681.7 1412.5Z"/><path d="M737.8 1401.9L754.6 1431.0L721.0 1431.0Z"/><path d="M777.1 1420.9L793.9 1450.0L760.3 1450.0Z"/><path d="M816.5 1435.9L833.3 1465.0L799.7 1465.0Z"/><path d="M855.8 1453.4L872.6 1482.5L839.0 1482.5Z"/><path d="M895.1 1466.9L911.9 1496.0L878.3 1496.0Z"/><path d="M934.5 1479.9L951.3 1509.0L917.7 1509.0Z"/><path d="M973.8 1493.4L990.6 1522.5L957.0 1522.5Z"/></g>
<path d="M188.0 1201.0 L188.8 882.5 L189.6 990.2 L190.3 1009.7 L191.1 1033.2 L191.9 1102.2 L192.7 1176.0 L193.5 1140.0 L194.3 1060.0 L195.1 1030.0 L199.0 1040.0 L202.9 1045.0 L210.8 1047.0 L218.7 1047.6 L226.5 969.7 L234.4 1022.2 L242.3 1053.7 L250.1 1062.0 L258.0 1065.2 L265.9 1065.6 L273.7 1061.7 L281.6 1072.7 L289.5 1090.0 L297.3 1094.0 L305.2 1092.2 L313.1 1103.7 L320.9 1110.5 L328.8 1115.6 L336.7 1120.1 L344.5 1124.1 L360.3 1131.6 L376.0 1139.2 L391.7 1146.6 L407.4 1153.6 L423.2 1160.6 L438.9 1168.0 L454.6 1175.6 L470.4 1183.3 L486.1 1191.6 L501.8 1201.6" fill="none" stroke="#37AD6B" stroke-width="3.2" stroke-linejoin="round"/>
<path d="M520.9 1209.9L522.1 1210.4M560.2 1228.9L561.5 1229.5M599.5 1249.9L600.8 1250.5M638.9 1269.9L640.1 1270.5M678.2 1290.6L679.4 1291.3M717.5 1311.9L718.8 1312.5M756.9 1331.9L758.1 1332.5M796.2 1351.2L797.4 1351.7M835.5 1369.2L836.8 1369.7M874.8 1385.0L876.1 1385.4M914.1 1398.2L915.5 1398.7M953.5 1409.0L954.8 1409.4" fill="none" stroke="#37AD6B" stroke-width="3.2" stroke-linecap="round"/>
<g fill="#37AD6B"><path d="M188.0 1220.4L204.8 1191.3L171.2 1191.3Z"/><path d="M188.8 901.9L205.6 872.8L172.0 872.8Z"/><path d="M189.6 1009.6L206.4 980.5L172.8 980.5Z"/><path d="M190.3 1029.1L207.1 1000.0L173.5 1000.0Z"/><path d="M191.1 1052.6L207.9 1023.5L174.3 1023.5Z"/><path d="M191.9 1121.6L208.7 1092.5L175.1 1092.5Z"/><path d="M192.7 1195.4L209.5 1166.3L175.9 1166.3Z"/><path d="M193.5 1159.4L210.3 1130.3L176.7 1130.3Z"/><path d="M194.3 1079.4L211.1 1050.3L177.5 1050.3Z"/><path d="M195.1 1049.4L211.9 1020.3L178.3 1020.3Z"/><path d="M199.0 1059.4L215.8 1030.3L182.2 1030.3Z"/><path d="M202.9 1064.4L219.7 1035.3L186.1 1035.3Z"/><path d="M210.8 1066.4L227.6 1037.3L194.0 1037.3Z"/><path d="M218.7 1067.0L235.5 1037.9L201.9 1037.9Z"/><path d="M226.5 989.1L243.3 960.0L209.7 960.0Z"/><path d="M234.4 1041.6L251.2 1012.5L217.6 1012.5Z"/><path d="M242.3 1073.1L259.1 1044.0L225.5 1044.0Z"/><path d="M250.1 1081.4L266.9 1052.3L233.3 1052.3Z"/><path d="M258.0 1084.6L274.8 1055.5L241.2 1055.5Z"/><path d="M265.9 1085.0L282.7 1055.9L249.1 1055.9Z"/><path d="M273.7 1081.1L290.5 1052.0L256.9 1052.0Z"/><path d="M281.6 1092.1L298.4 1063.0L264.8 1063.0Z"/><path d="M289.5 1109.4L306.3 1080.3L272.7 1080.3Z"/><path d="M297.3 1113.4L314.1 1084.3L280.5 1084.3Z"/><path d="M305.2 1111.6L322.0 1082.5L288.4 1082.5Z"/><path d="M313.1 1123.1L329.9 1094.0L296.3 1094.0Z"/><path d="M320.9 1129.9L337.7 1100.8L304.1 1100.8Z"/><path d="M328.8 1135.0L345.6 1105.9L312.0 1105.9Z"/><path d="M336.7 1139.5L353.5 1110.4L319.9 1110.4Z"/><path d="M344.5 1143.5L361.3 1114.4L327.7 1114.4Z"/><path d="M360.3 1151.0L377.1 1121.9L343.5 1121.9Z"/><path d="M376.0 1158.6L392.8 1129.5L359.2 1129.5Z"/><path d="M391.7 1166.0L408.5 1136.9L374.9 1136.9Z"/><path d="M407.4 1173.0L424.2 1143.9L390.6 1143.9Z"/><path d="M423.2 1180.0L440.0 1150.9L406.4 1150.9Z"/><path d="M438.9 1187.4L455.7 1158.3L422.1 1158.3Z"/><path d="M454.6 1195.0L471.4 1165.9L437.8 1165.9Z"/><path d="M470.4 1202.7L487.2 1173.6L453.6 1173.6Z"/><path d="M486.1 1211.0L502.9 1181.9L469.3 1181.9Z"/><path d="M501.8 1221.0L518.6 1191.9L485.0 1191.9Z"/><path d="M541.2 1238.1L558.0 1209.0L524.4 1209.0Z"/><path d="M580.5 1259.1L597.3 1230.0L563.7 1230.0Z"/><path d="M619.8 1280.1L636.6 1251.0L603.0 1251.0Z"/><path d="M659.2 1299.1L676.0 1270.0L642.4 1270.0Z"/><path d="M698.5 1321.6L715.3 1292.5L681.7 1292.5Z"/><path d="M737.8 1341.6L754.6 1312.5L721.0 1312.5Z"/><path d="M777.1 1361.6L793.9 1332.5L760.3 1332.5Z"/><path d="M816.5 1380.1L833.3 1351.0L799.7 1351.0Z"/><path d="M855.8 1397.6L872.6 1368.5L839.0 1368.5Z"/><path d="M895.1 1411.6L911.9 1382.5L878.3 1382.5Z"/><path d="M934.5 1424.1L951.3 1395.0L917.7 1395.0Z"/><path d="M973.8 1433.1L990.6 1404.0L957.0 1404.0Z"/></g>
<path d="M188.0 2356.0 L188.8 2338.7 L189.6 2322.6 L190.3 2307.7 L191.1 2293.8 L191.9 2280.3 L192.7 2267.1 L193.5 2254.2 L194.3 2241.1 L195.1 2228.0 L199.0 2204.0 L202.9 2181.7 L210.8 2151.7 L218.7 2126.9 L226.5 2106.5 L234.4 2088.6 L242.3 2072.0 L250.1 2055.8 L258.0 2041.0 L265.9 2028.7 L273.7 2017.5 L281.6 2006.5 L289.5 1996.0 L297.3 1986.1 L305.2 1977.0 L313.1 1969.1 L320.9 1961.5 L328.8 1953.0 L336.7 1944.5 L344.5 1937.0 L360.3 1922.2 L376.0 1908.4 L391.7 1896.4 L407.4 1885.5 L423.2 1875.5 L438.9 1865.7 L454.6 1855.3 L470.4 1845.2 L486.1 1835.9 L501.8 1827.3" fill="none" stroke="#515151" stroke-width="3.2" stroke-linejoin="round"/>
<path d="M520.9 1818.5L522.1 1817.9M560.2 1801.3L561.5 1800.7M599.5 1785.6L600.8 1785.0M638.8 1771.7L640.2 1771.2M678.2 1759.7L679.5 1759.4M717.5 1748.8L718.8 1748.4M756.8 1739.0L758.2 1738.6M796.1 1730.8L797.5 1730.5M874.8 1716.9L876.2 1716.6" fill="none" stroke="#515151" stroke-width="3.2" stroke-linecap="round"/>
<g fill="#515151"><rect x="175.7" y="2343.7" width="24.6" height="24.6"/><rect x="176.5" y="2326.4" width="24.6" height="24.6"/><rect x="177.3" y="2310.3" width="24.6" height="24.6"/><rect x="178.0" y="2295.4" width="24.6" height="24.6"/><rect x="178.8" y="2281.5" width="24.6" height="24.6"/><rect x="179.6" y="2268.0" width="24.6" height="24.6"/><rect x="180.4" y="2254.8" width="24.6" height="24.6"/><rect x="181.2" y="2241.9" width="24.6" height="24.6"/><rect x="182.0" y="2228.8" width="24.6" height="24.6"/><rect x="182.8" y="2215.7" width="24.6" height="24.6"/><rect x="186.7" y="2191.7" width="24.6" height="24.6"/><rect x="190.6" y="2169.4" width="24.6" height="24.6"/><rect x="198.5" y="2139.4" width="24.6" height="24.6"/><rect x="206.4" y="2114.6" width="24.6" height="24.6"/><rect x="214.2" y="2094.2" width="24.6" height="24.6"/><rect x="222.1" y="2076.3" width="24.6" height="24.6"/><rect x="230.0" y="2059.7" width="24.6" height="24.6"/><rect x="237.8" y="2043.5" width="24.6" height="24.6"/><rect x="245.7" y="2028.7" width="24.6" height="24.6"/><rect x="253.6" y="2016.4" width="24.6" height="24.6"/><rect x="261.4" y="2005.2" width="24.6" height="24.6"/><rect x="269.3" y="1994.2" width="24.6" height="24.6"/><rect x="277.2" y="1983.7" width="24.6" height="24.6"/><rect x="285.0" y="1973.8" width="24.6" height="24.6"/><rect x="292.9" y="1964.7" width="24.6" height="24.6"/><rect x="300.8" y="1956.8" width="24.6" height="24.6"/><rect x="308.6" y="1949.2" width="24.6" height="24.6"/><rect x="316.5" y="1940.7" width="24.6" height="24.6"/><rect x="324.4" y="1932.2" width="24.6" height="24.6"/><rect x="332.2" y="1924.7" width="24.6" height="24.6"/><rect x="348.0" y="1909.9" width="24.6" height="24.6"/><rect x="363.7" y="1896.1" width="24.6" height="24.6"/><rect x="379.4" y="1884.1" width="24.6" height="24.6"/><rect x="395.1" y="1873.2" width="24.6" height="24.6"/><rect x="410.9" y="1863.2" width="24.6" height="24.6"/><rect x="426.6" y="1853.4" width="24.6" height="24.6"/><rect x="442.3" y="1843.0" width="24.6" height="24.6"/><rect x="458.1" y="1832.9" width="24.6" height="24.6"/><rect x="473.8" y="1823.6" width="24.6" height="24.6"/><rect x="489.5" y="1815.0" width="24.6" height="24.6"/><rect x="528.9" y="1796.8" width="24.6" height="24.6"/><rect x="568.2" y="1780.6" width="24.6" height="24.6"/><rect x="607.5" y="1765.4" width="24.6" height="24.6"/><rect x="646.9" y="1752.9" width="24.6" height="24.6"/><rect x="686.2" y="1741.6" width="24.6" height="24.6"/><rect x="725.5" y="1731.0" width="24.6" height="24.6"/><rect x="764.8" y="1722.0" width="24.6" height="24.6"/><rect x="804.2" y="1714.7" width="24.6" height="24.6"/><rect x="843.5" y="1708.2" width="24.6" height="24.6"/><rect x="882.8" y="1700.7" width="24.6" height="24.6"/><rect x="922.2" y="1696.0" width="24.6" height="24.6"/><rect x="961.5" y="1690.7" width="24.6" height="24.6"/></g>
<path d="M188.0 2265.0 L188.8 2235.0 L189.6 2211.2 L190.3 2193.0 L191.1 2180.4 L191.9 2169.6 L192.7 2160.2 L193.5 2152.4 L194.3 2143.6 L195.1 2135.0 L199.0 2108.0 L202.9 2090.0 L210.8 2058.0 L218.7 2035.0 L226.5 2017.4 L234.4 2002.0 L242.3 1988.0 L250.1 1973.4 L258.0 1958.7 L265.9 1945.0 L273.7 1932.3 L281.6 1920.0 L289.5 1908.8 L297.3 1899.0 L305.2 1890.5 L313.1 1882.7 L320.9 1875.5 L328.8 1868.8 L336.7 1862.7 L344.5 1857.0 L360.3 1847.4 L376.0 1838.6 L391.7 1829.7 L407.4 1821.2 L423.2 1813.0 L438.9 1805.5 L454.6 1798.7 L470.4 1792.6 L486.1 1786.8 L501.8 1781.0" fill="none" stroke="#F14040" stroke-width="3.2" stroke-linejoin="round"/>
<path d="M520.8 1774.0L522.2 1773.5M560.2 1762.0L561.5 1761.7M599.5 1753.1L600.8 1752.9M638.8 1744.4L640.2 1744.0" fill="none" stroke="#F14040" stroke-width="3.2" stroke-linecap="round"/>
<g fill="#F14040"><circle cx="188.0" cy="2265.0" r="13.8"/><circle cx="188.8" cy="2235.0" r="13.8"/><circle cx="189.6" cy="2211.2" r="13.8"/><circle cx="190.3" cy="2193.0" r="13.8"/><circle cx="191.1" cy="2180.4" r="13.8"/><circle cx="191.9" cy="2169.6" r="13.8"/><circle cx="192.7" cy="2160.2" r="13.8"/><circle cx="193.5" cy="2152.4" r="13.8"/><circle cx="194.3" cy="2143.6" r="13.8"/><circle cx="195.1" cy="2135.0" r="13.8"/><circle cx="199.0" cy="2108.0" r="13.8"/><circle cx="202.9" cy="2090.0" r="13.8"/><circle cx="210.8" cy="2058.0" r="13.8"/><circle cx="218.7" cy="2035.0" r="13.8"/><circle cx="226.5" cy="2017.4" r="13.8"/><circle cx="234.4" cy="2002.0" r="13.8"/><circle cx="242.3" cy="1988.0" r="13.8"/><circle cx="250.1" cy="1973.4" r="13.8"/><circle cx="258.0" cy="1958.7" r="13.8"/><circle cx="265.9" cy="1945.0" r="13.8"/><circle cx="273.7" cy="1932.3" r="13.8"/><circle cx="281.6" cy="1920.0" r="13.8"/><circle cx="289.5" cy="1908.8" r="13.8"/><circle cx="297.3" cy="1899.0" r="13.8"/><circle cx="305.2" cy="1890.5" r="13.8"/><circle cx="313.1" cy="1882.7" r="13.8"/><circle cx="320.9" cy="1875.5" r="13.8"/><circle cx="328.8" cy="1868.8" r="13.8"/><circle cx="336.7" cy="1862.7" r="13.8"/><circle cx="344.5" cy="1857.0" r="13.8"/><circle cx="360.3" cy="1847.4" r="13.8"/><circle cx="376.0" cy="1838.6" r="13.8"/><circle cx="391.7" cy="1829.7" r="13.8"/><circle cx="407.4" cy="1821.2" r="13.8"/><circle cx="423.2" cy="1813.0" r="13.8"/><circle cx="438.9" cy="1805.5" r="13.8"/><circle cx="454.6" cy="1798.7" r="13.8"/><circle cx="470.4" cy="1792.6" r="13.8"/><circle cx="486.1" cy="1786.8" r="13.8"/><circle cx="501.8" cy="1781.0" r="13.8"/><circle cx="541.2" cy="1766.5" r="13.8"/><circle cx="580.5" cy="1757.2" r="13.8"/><circle cx="619.8" cy="1748.8" r="13.8"/><circle cx="659.2" cy="1739.6" r="13.8"/><circle cx="698.5" cy="1733.4" r="13.8"/><circle cx="737.8" cy="1729.2" r="13.8"/><circle cx="777.1" cy="1722.9" r="13.8"/><circle cx="816.5" cy="1718.5" r="13.8"/><circle cx="855.8" cy="1715.1" r="13.8"/><circle cx="895.1" cy="1711.5" r="13.8"/><circle cx="934.5" cy="1710.0" r="13.8"/><circle cx="973.8" cy="1708.1" r="13.8"/></g>
<path d="M188.0 2232.7 L188.8 2204.4 L189.6 2181.9 L190.3 2164.7 L191.1 2152.8 L191.9 2142.6 L192.7 2133.8 L193.5 2126.4 L194.3 2118.1 L195.1 2110.0 L199.0 2075.0 L202.9 2049.4 L210.8 2017.9 L218.7 1996.3 L226.5 1978.3 L234.4 1962.1 L242.3 1946.9 L250.1 1933.3 L258.0 1922.0 L265.9 1911.7 L273.7 1901.6 L281.6 1891.9 L289.5 1882.5 L297.3 1873.9 L305.2 1866.1 L313.1 1858.5 L320.9 1851.4 L328.8 1844.6 L336.7 1838.3 L344.5 1832.4 L360.3 1821.9 L376.0 1812.6 L391.7 1803.8 L407.4 1795.1 L423.2 1786.9 L438.9 1779.6 L454.6 1773.1 L470.4 1767.1 L486.1 1761.6 L501.8 1756.5" fill="none" stroke="#1A6FDF" stroke-width="3.2" stroke-linejoin="round"/>
<path d="M520.8 1751.4L522.2 1751.0M560.2 1741.5L561.5 1741.1M599.5 1732.4L600.8 1732.0M638.8 1724.0L640.2 1723.8" fill="none" stroke="#1A6FDF" stroke-width="3.2" stroke-linecap="round"/>
<g fill="#1A6FDF"><path d="M188.0 2213.3L204.8 2242.4L171.2 2242.4Z"/><path d="M188.8 2185.0L205.6 2214.1L172.0 2214.1Z"/><path d="M189.6 2162.5L206.4 2191.6L172.8 2191.6Z"/><path d="M190.3 2145.3L207.1 2174.4L173.5 2174.4Z"/><path d="M191.1 2133.4L207.9 2162.5L174.3 2162.5Z"/><path d="M191.9 2123.2L208.7 2152.3L175.1 2152.3Z"/><path d="M192.7 2114.4L209.5 2143.5L175.9 2143.5Z"/><path d="M193.5 2107.0L210.3 2136.1L176.7 2136.1Z"/><path d="M194.3 2098.7L211.1 2127.8L177.5 2127.8Z"/><path d="M195.1 2090.6L211.9 2119.7L178.3 2119.7Z"/><path d="M199.0 2055.6L215.8 2084.7L182.2 2084.7Z"/><path d="M202.9 2030.0L219.7 2059.1L186.1 2059.1Z"/><path d="M210.8 1998.5L227.6 2027.6L194.0 2027.6Z"/><path d="M218.7 1976.9L235.5 2006.0L201.9 2006.0Z"/><path d="M226.5 1958.9L243.3 1988.0L209.7 1988.0Z"/><path d="M234.4 1942.7L251.2 1971.8L217.6 1971.8Z"/><path d="M242.3 1927.5L259.1 1956.6L225.5 1956.6Z"/><path d="M250.1 1913.9L266.9 1943.0L233.3 1943.0Z"/><path d="M258.0 1902.6L274.8 1931.7L241.2 1931.7Z"/><path d="M265.9 1892.3L282.7 1921.4L249.1 1921.4Z"/><path d="M273.7 1882.2L290.5 1911.3L256.9 1911.3Z"/><path d="M281.6 1872.5L298.4 1901.6L264.8 1901.6Z"/><path d="M289.5 1863.1L306.3 1892.2L272.7 1892.2Z"/><path d="M297.3 1854.5L314.1 1883.6L280.5 1883.6Z"/><path d="M305.2 1846.7L322.0 1875.8L288.4 1875.8Z"/><path d="M313.1 1839.1L329.9 1868.2L296.3 1868.2Z"/><path d="M320.9 1832.0L337.7 1861.1L304.1 1861.1Z"/><path d="M328.8 1825.2L345.6 1854.3L312.0 1854.3Z"/><path d="M336.7 1818.9L353.5 1848.0L319.9 1848.0Z"/><path d="M344.5 1813.0L361.3 1842.1L327.7 1842.1Z"/><path d="M360.3 1802.5L377.1 1831.6L343.5 1831.6Z"/><path d="M376.0 1793.2L392.8 1822.3L359.2 1822.3Z"/><path d="M391.7 1784.4L408.5 1813.5L374.9 1813.5Z"/><path d="M407.4 1775.8L424.2 1804.8L390.6 1804.8Z"/><path d="M423.2 1767.5L440.0 1796.6L406.4 1796.6Z"/><path d="M438.9 1760.2L455.7 1789.3L422.1 1789.3Z"/><path d="M454.6 1753.7L471.4 1782.8L437.8 1782.8Z"/><path d="M470.4 1747.7L487.2 1776.8L453.6 1776.8Z"/><path d="M486.1 1742.2L502.9 1771.3L469.3 1771.3Z"/><path d="M501.8 1737.1L518.6 1766.2L485.0 1766.2Z"/><path d="M541.2 1726.5L558.0 1755.6L524.4 1755.6Z"/><path d="M580.5 1717.3L597.3 1746.4L563.7 1746.4Z"/><path d="M619.8 1708.3L636.6 1737.4L603.0 1737.4Z"/><path d="M659.2 1700.7L676.0 1729.8L642.4 1729.8Z"/><path d="M698.5 1694.3L715.3 1723.4L681.7 1723.4Z"/><path d="M737.8 1689.5L754.6 1718.6L721.0 1718.6Z"/><path d="M777.1 1685.0L793.9 1714.1L760.3 1714.1Z"/><path d="M816.5 1681.1L833.3 1710.2L799.7 1710.2Z"/><path d="M855.8 1677.2L872.6 1706.3L839.0 1706.3Z"/><path d="M895.1 1674.9L911.9 1704.0L878.3 1704.0Z"/><path d="M934.5 1672.0L951.3 1701.1L917.7 1701.1Z"/><path d="M973.8 1669.4L990.6 1698.5L957.0 1698.5Z"/></g>
<path d="M188.0 2220.5 L188.8 2188.2 L189.6 2162.5 L190.3 2142.9 L191.1 2129.4 L191.9 2117.7 L192.7 2107.7 L193.5 2099.3 L194.3 2089.7 L195.1 2080.5 L199.0 2051.0 L202.9 2031.0 L210.8 2000.4 L218.7 1977.0 L226.5 1959.0 L234.4 1942.6 L242.3 1927.5 L250.1 1913.5 L258.0 1901.4 L265.9 1891.2 L273.7 1881.6 L281.6 1872.4 L289.5 1863.8 L297.3 1855.6 L305.2 1847.8 L313.1 1840.4 L320.9 1833.4 L328.8 1826.7 L336.7 1820.4 L344.5 1814.4 L360.3 1803.8 L376.0 1794.6 L391.7 1786.3 L407.4 1778.5 L423.2 1770.9 L438.9 1763.8 L454.6 1757.5 L470.4 1751.7 L486.1 1745.9 L501.8 1740.7" fill="none" stroke="#37AD6B" stroke-width="3.2" stroke-linejoin="round"/>
<path d="M520.8 1735.7L522.2 1735.3M560.2 1725.3L561.5 1724.9M599.5 1715.5L600.8 1715.1" fill="none" stroke="#37AD6B" stroke-width="3.2" stroke-linecap="round"/>
<g fill="#37AD6B"><path d="M188.0 2239.9L204.8 2210.8L171.2 2210.8Z"/><path d="M188.8 2207.6L205.6 2178.5L172.0 2178.5Z"/><path d="M189.6 2181.9L206.4 2152.8L172.8 2152.8Z"/><path d="M190.3 2162.3L207.1 2133.2L173.5 2133.2Z"/><path d="M191.1 2148.8L207.9 2119.7L174.3 2119.7Z"/><path d="M191.9 2137.1L208.7 2108.0L175.1 2108.0Z"/><path d="M192.7 2127.1L209.5 2098.0L175.9 2098.0Z"/><path d="M193.5 2118.7L210.3 2089.6L176.7 2089.6Z"/><path d="M194.3 2109.1L211.1 2080.0L177.5 2080.0Z"/><path d="M195.1 2099.9L211.9 2070.8L178.3 2070.8Z"/><path d="M199.0 2070.4L215.8 2041.3L182.2 2041.3Z"/><path d="M202.9 2050.4L219.7 2021.3L186.1 2021.3Z"/><path d="M210.8 2019.8L227.6 1990.7L194.0 1990.7Z"/><path d="M218.7 1996.4L235.5 1967.3L201.9 1967.3Z"/><path d="M226.5 1978.4L243.3 1949.3L209.7 1949.3Z"/><path d="M234.4 1962.0L251.2 1932.9L217.6 1932.9Z"/><path d="M242.3 1946.9L259.1 1917.8L225.5 1917.8Z"/><path d="M250.1 1932.9L266.9 1903.8L233.3 1903.8Z"/><path d="M258.0 1920.8L274.8 1891.7L241.2 1891.7Z"/><path d="M265.9 1910.6L282.7 1881.5L249.1 1881.5Z"/><path d="M273.7 1901.0L290.5 1871.9L256.9 1871.9Z"/><path d="M281.6 1891.8L298.4 1862.7L264.8 1862.7Z"/><path d="M289.5 1883.2L306.3 1854.1L272.7 1854.1Z"/><path d="M297.3 1875.0L314.1 1845.9L280.5 1845.9Z"/><path d="M305.2 1867.2L322.0 1838.1L288.4 1838.1Z"/><path d="M313.1 1859.8L329.9 1830.7L296.3 1830.7Z"/><path d="M320.9 1852.8L337.7 1823.7L304.1 1823.7Z"/><path d="M328.8 1846.1L345.6 1817.0L312.0 1817.0Z"/><path d="M336.7 1839.8L353.5 1810.7L319.9 1810.7Z"/><path d="M344.5 1833.8L361.3 1804.7L327.7 1804.7Z"/><path d="M360.3 1823.2L377.1 1794.1L343.5 1794.1Z"/><path d="M376.0 1814.0L392.8 1784.9L359.2 1784.9Z"/><path d="M391.7 1805.6L408.5 1776.6L374.9 1776.6Z"/><path d="M407.4 1797.9L424.2 1768.8L390.6 1768.8Z"/><path d="M423.2 1790.3L440.0 1761.2L406.4 1761.2Z"/><path d="M438.9 1783.2L455.7 1754.1L422.1 1754.1Z"/><path d="M454.6 1776.9L471.4 1747.8L437.8 1747.8Z"/><path d="M470.4 1771.1L487.2 1742.0L453.6 1742.0Z"/><path d="M486.1 1765.3L502.9 1736.3L469.3 1736.3Z"/><path d="M501.8 1760.1L518.6 1731.0L485.0 1731.0Z"/><path d="M541.2 1749.7L558.0 1720.6L524.4 1720.6Z"/><path d="M580.5 1739.3L597.3 1710.2L563.7 1710.2Z"/><path d="M619.8 1730.1L636.6 1701.0L603.0 1701.0Z"/><path d="M659.2 1723.1L676.0 1694.0L642.4 1694.0Z"/><path d="M698.5 1716.1L715.3 1687.0L681.7 1687.0Z"/><path d="M737.8 1710.5L754.6 1681.4L721.0 1681.4Z"/><path d="M777.1 1705.0L793.9 1675.9L760.3 1675.9Z"/><path d="M816.5 1701.6L833.3 1672.5L799.7 1672.5Z"/><path d="M855.8 1697.2L872.6 1668.1L839.0 1668.1Z"/><path d="M895.1 1693.8L911.9 1664.7L878.3 1664.7Z"/><path d="M934.5 1692.0L951.3 1662.9L917.7 1662.9Z"/><path d="M973.8 1690.7L990.6 1661.6L957.0 1661.6Z"/></g>
<g font-family="Liberation Serif, serif" font-size="50" fill="#000"><text x="171.6" y="803.1" text-anchor="end">1.4</text><text x="171.6" y="628.5" text-anchor="end">1.6</text><text x="171.6" y="454.0" text-anchor="end">1.8</text><text x="171.6" y="279.4" text-anchor="end">2.0</text><text x="171.6" y="104.9" text-anchor="end">2.2</text><text x="171.6" y="1615.5" text-anchor="end">60</text><text x="171.6" y="1458.5" text-anchor="end">62</text><text x="171.6" y="1301.5" text-anchor="end">64</text><text x="171.6" y="1144.5" text-anchor="end">66</text><text x="171.6" y="987.5" text-anchor="end">68</text><text x="171.6" y="2428.1" text-anchor="end">1.40</text><text x="171.6" y="2257.4" text-anchor="end">1.45</text><text x="171.6" y="2086.7" text-anchor="end">1.50</text><text x="171.6" y="1916.0" text-anchor="end">1.55</text><text x="171.6" y="1745.3" text-anchor="end">1.60</text><text x="187.2" y="2467.2" text-anchor="middle">0</text><text x="265.9" y="2467.2" text-anchor="middle">1</text><text x="344.5" y="2467.2" text-anchor="middle">2</text><text x="423.2" y="2467.2" text-anchor="middle">3</text><text x="501.8" y="2467.2" text-anchor="middle">4</text><text x="580.5" y="2467.2" text-anchor="middle">5</text><text x="659.2" y="2467.2" text-anchor="middle">6</text><text x="737.8" y="2467.2" text-anchor="middle">7</text><text x="816.5" y="2467.2" text-anchor="middle">8</text><text x="895.1" y="2467.2" text-anchor="middle">9</text><text x="973.8" y="2467.2" text-anchor="middle">10</text></g>
<path d="M563.6 510.9H602.7M638 510.9H676.8" stroke="#515151" stroke-width="3.2"/>
<g fill="#515151"><rect x="608.1" y="498.6" width="24.6" height="24.6"/></g>
<path d="M563.6 578.3H602.7M638 578.3H676.8" stroke="#F14040" stroke-width="3.2"/>
<g fill="#F14040"><circle cx="620.4" cy="578.3" r="13.8"/></g>
<path d="M563.6 645.8H602.7M638 645.8H676.8" stroke="#1A6FDF" stroke-width="3.2"/>
<g fill="#1A6FDF"><path d="M620.4 626.4L637.2 655.5L603.6 655.5Z"/></g>
<path d="M563.6 712.4H602.7M638 712.4H676.8" stroke="#37AD6B" stroke-width="3.2"/>
<g fill="#37AD6B"><path d="M620.4 731.8L637.2 702.7L603.6 702.7Z"/></g>
<g font-family="Liberation Serif, serif" fill="#000"><text font-size="60" font-style="italic" transform="translate(76.1,503.0) rotate(-90)">U</text><text font-size="39" transform="translate(92.8,461.4) rotate(-90)">cell</text><text font-size="60" transform="translate(76.4,390.0) rotate(-90)">in</text><text font-size="60" transform="translate(76.5,332.0) rotate(-90)">V</text><text font-size="60" font-style="italic" transform="translate(89.3,1385.8) rotate(-90)">R</text><text font-size="40" transform="translate(104.7,1349.8) rotate(-90)">HF</text><text font-size="60" transform="translate(88.6,1285.2) rotate(-90)">in</text><text font-size="60" transform="translate(90.1,1224.9) rotate(-90)">m</text><text font-size="60" transform="translate(88.7,1178.4) rotate(-90)">Ω</text><text font-size="60" transform="translate(89.4,1120.8) rotate(-90)">cm</text><text font-size="40" transform="translate(73.2,1050.2) rotate(-90)">2</text><text font-size="60" font-style="italic" transform="translate(44.0,2170.1) rotate(-90)">U</text><text font-size="41" font-style="italic" transform="translate(61.1,2128.5) rotate(-90)">i</text><text font-size="41" font-style="italic" transform="translate(61.1,2119.5) rotate(-90)">R</text><text font-size="28" transform="translate(70.7,2096.0) rotate(-90)">HF</text><text font-size="41" transform="translate(60.5,2060.4) rotate(-90)">-</text><text font-size="41" transform="translate(60.8,2048.0) rotate(-90)">free</text><text font-size="60" transform="translate(42.7,1971.9) rotate(-90)">in</text><text font-size="60" transform="translate(44.0,1913.2) rotate(-90)">V</text><text font-size="58" font-style="italic" x="456.7" y="2563.6">i</text><text font-size="58" x="486.4" y="2561.0">in</text><text font-size="58" x="545.8" y="2561.2">A</text><text font-size="58" x="602.3" y="2562.0">cm</text><text font-size="40" x="673.1" y="2538.8">-2</text><text font-size="50" x="60.3" y="54.3">a)</text><text font-size="50" x="62.1" y="867.2">b)</text><text font-size="50" x="60.9" y="1679.7">c)</text><text font-size="50" font-style="italic" x="686.2" y="527.0">p</text><text font-size="32" x="713.2" y="507.8">c</text><text font-size="50" x="738.9" y="528.0">=</text><text font-size="50" x="780.4" y="526.7">1</text><text font-size="50" x="816.7" y="527.4">bar</text><text font-size="50" font-style="italic" x="686.2" y="594.4">p</text><text font-size="32" x="713.2" y="575.2">c</text><text font-size="50" x="738.9" y="595.4">=</text><text font-size="50" x="780.4" y="594.1">4</text><text font-size="50" x="816.7" y="594.8">bar</text><text font-size="50" font-style="italic" x="686.2" y="661.9">p</text><text font-size="32" x="713.2" y="642.7">c</text><text font-size="50" x="738.9" y="662.9">=</text><text font-size="50" x="780.4" y="661.6">7</text><text font-size="50" x="816.7" y="662.3">bar</text><text font-size="50" font-style="italic" x="686.2" y="728.5">p</text><text font-size="32" x="713.2" y="709.3">c</text><text font-size="50" x="738.9" y="729.5">=</text><text font-size="50" x="780.4" y="728.2">10</text><text font-size="50" x="841.7" y="728.9">bar</text></g>
</svg>
</body></html>
